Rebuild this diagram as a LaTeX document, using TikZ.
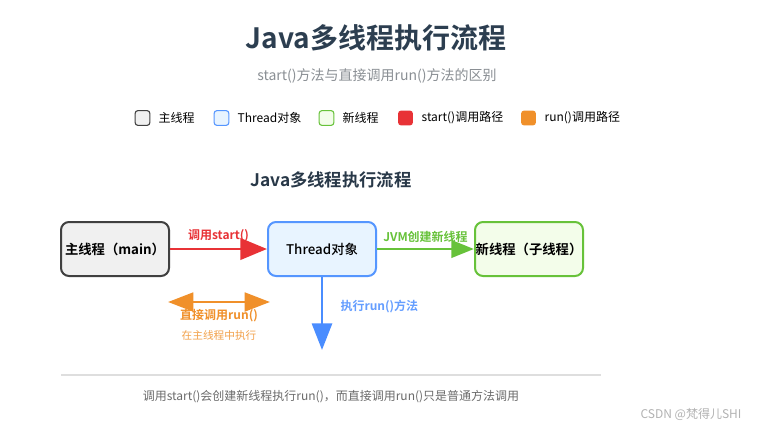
\documentclass[tikz,border=0pt]{standalone}
\usepackage{fontspec}
\setmainfont{Noto Sans CJK SC}[BoldFont={Noto Sans CJK SC Bold}]
\newfontfamily\mediumfont{Noto Sans CJK SC Medium}
\usetikzlibrary{arrows.meta,positioning}

\definecolor{titlec}{HTML}{2C3E50}
\definecolor{subc}{HTML}{8A8F94}
\definecolor{mainfill}{HTML}{F0F0F0}
\definecolor{maindraw}{HTML}{404040}
\definecolor{threadfill}{HTML}{E8F4FF}
\definecolor{threaddraw}{HTML}{5596FF}
\definecolor{childfill}{HTML}{F3FDEA}
\definecolor{childdraw}{HTML}{67C23A}
\definecolor{startc}{HTML}{E83236}
\definecolor{runc}{HTML}{F0902A}
\definecolor{bluec}{HTML}{4A8DFF}
\definecolor{footc}{HTML}{6B6B6B}

\tikzset{
  flowbox/.style={rounded corners=6pt,line width=1.5pt,minimum width=81pt,
    minimum height=40.5pt,inner sep=0pt,font=\fontsize{10}{12}\selectfont},
  keybox/.style={rounded corners=2pt,line width=0.8pt,minimum size=11pt,inner sep=0pt},
  keytext/.style={inner sep=0pt,font=\fontsize{9}{11}\selectfont},
  flowarrow/.style={line width=2.2pt,-{Triangle[length=19pt,width=15pt]}},
  arrowtext/.style={inner sep=1pt,font=\bfseries\fontsize{9}{11}\selectfont}
}

\begin{document}
\begin{tikzpicture}[x=0.75pt,y=-0.75pt]
  \useasboundingbox[fill=white] (0,0) rectangle (757,429);

  % titles
  \node[titlec,font=\bfseries\fontsize{21}{25}\selectfont] (title) at (376,38) {Java多线程执行流程};
  \node[subc,font=\fontsize{10.5}{13}\selectfont] (subtitle) at (377,76) {start()方法与直接调用run()方法的区别};

  % legend
  \node[keybox,draw=maindraw,fill=mainfill] (k1) at (142.5,118) {};
  \node[keytext,right=6pt of k1] (t1) {主线程};
  \node[keybox,draw=threaddraw,fill=threadfill] (k2) at (221.5,118) {};
  \node[keytext,right=6pt of k2] (t2) {Thread对象};
  \node[keybox,draw=childdraw,fill=childfill] (k3) at (326.5,118) {};
  \node[keytext,right=6pt of k3] (t3) {新线程};
  \node[keybox,fill=startc] (k4) at (405.5,118) {};
  \node[keytext,right=6pt of k4] (t4) {start()调用路径};
  \node[keybox,fill=runc] (k5) at (528.5,118) {};
  \node[keytext,right=6pt of k5] (t5) {run()调用路径};

  \node[titlec!90!black,font=\bfseries\fontsize{13}{15}\selectfont] (heading) at (331,180) {Java多线程执行流程};

  % boxes
  \node[flowbox,draw=maindraw,fill=mainfill,font=\bfseries\fontsize{10}{12}\selectfont] (main) at (115,249) {主线程（main）};
  \node[flowbox,draw=threaddraw,fill=threadfill,font=\mediumfont\fontsize{10}{12}\selectfont] (thread) at (322,249) {Thread对象};
  \node[flowbox,draw=childdraw,fill=childfill,font=\bfseries\fontsize{10}{12}\selectfont] (child) at (529,249) {新线程（子线程）};

  % arrows
  \draw[flowarrow,startc,-{Triangle[length=20pt,width=16pt]}] (main) -- (thread)
    node[arrowtext,midway,above=3pt] {调用start()};
  \draw[flowarrow,childdraw,-{Triangle[length=17pt,width=13pt]}] (thread) -- (child)
    node[arrowtext,midway,above=3pt] {JVM创建新线程};

  \coordinate (runend) at (322,350);
  \draw[flowarrow,bluec,-{Triangle[length=20pt,width=15pt]}] (thread) -- (runend);
  \node[arrowtext,bluec!85!white,anchor=west] (runtext) at (339,307) {执行run()方法};

  \coordinate (rl) at (168,302);
  \coordinate (rr) at (270,302);
  \draw[flowarrow,runc,{Triangle[length=19pt,width=14pt]}-{Triangle[length=19pt,width=14pt]}] (rl) -- (rr);
  \node[arrowtext,runc] (direct) at (219,316) {直接调用run()};
  \node[runc!85!white,inner sep=0pt,font=\fontsize{8}{10}\selectfont] (inmain) at (219,335) {在主线程中执行};

  % footer
  \coordinate (sepl) at (61,375);
  \coordinate (sepr) at (601,375);
  \draw[black!13,line width=1.2pt] (sepl) -- (sepr);
  \node[footc,font=\fontsize{9}{11}\selectfont] (footer) at (331,397) {调用start()会创建新线程执行run()，而直接调用run()只是普通方法调用};
  \node[black!30,font=\fontsize{9}{11}\selectfont] (mark) at (691,414) {CSDN @梵得儿SHI};
\end{tikzpicture}
\end{document}
